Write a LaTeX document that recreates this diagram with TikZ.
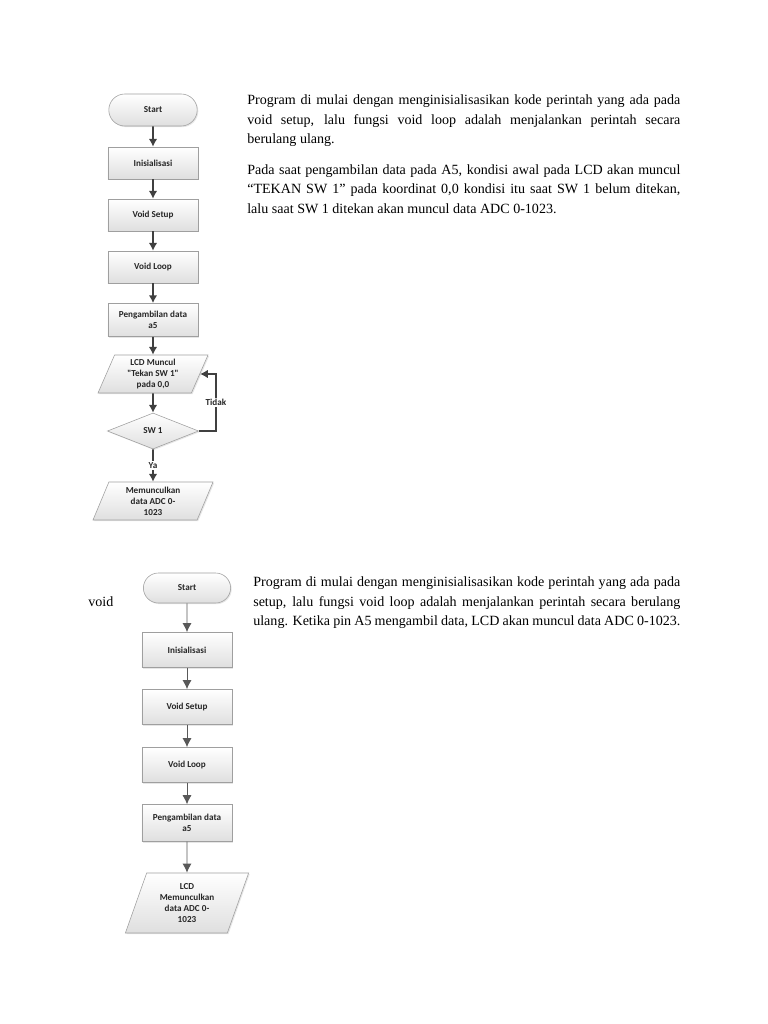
\documentclass[tikz,border=0pt]{standalone}
\usepackage{fontspec}
\setmainfont{Liberation Serif}
\newfontfamily\flowfont{Carlito}
\usetikzlibrary{arrows,arrows.meta}
\usetikzlibrary{shapes.geometric,shapes.misc,shadows}

\tikzset{
 kotak/.style={draw=gray!75, top color=white, bottom color=gray!25,
   drop shadow={shadow xshift=0.8pt, shadow yshift=-0.8pt, opacity=0.2},
   font=\flowfont\bfseries\fontsize{6.5}{7.8}\selectfont, text=black!85,
   align=center, inner sep=1pt},
 proses/.style={kotak, rectangle, minimum width=2.25cm, minimum height=0.8cm},
 mulai/.style={kotak, rounded rectangle, minimum width=2.28cm, minimum height=0.8cm},
 jajar/.style={kotak, trapezium, trapezium left angle=63, trapezium right angle=117,
   trapezium stretches body, minimum height=0.95cm},
 pilih/.style={kotak, diamond, minimum width=2.28cm, minimum height=0.9cm},
 panah/.style={draw=black!75, line width=1.1pt, ->, >={Latex[length=5.5pt, width=6pt]}},
 panahtipis/.style={draw=black!65, line width=0.7pt, ->, >={Latex[length=6.5pt, width=6.5pt]}},
 ket/.style={fill=white, inner sep=1pt, font=\flowfont\bfseries\fontsize{6.5}{7.8}\selectfont, text=black!85},
 paragraf/.style={anchor=north west, inner sep=0, align=justify, font=\fontsize{10}{14}\selectfont}
}

\begin{document}
\begin{tikzpicture}[x=0.025cm, y=-0.025cm]
\useasboundingbox (0,0) rectangle (768,1024);

% bagan atas
\node[mulai] (start1) at (153,110) {Start};
\node[proses] (init1) at (153,163) {Inisialisasi};
\node[proses] (setup1) at (153,215) {Void Setup};
\node[proses] (loop1) at (153,267) {Void Loop};
\node[proses, minimum height=0.83cm] (ambil1) at (153,320) {Pengambilan data\\a5};
\node[jajar, minimum width=2.75cm] (lcd1) at (153,374) {LCD Muncul\\"Tekan SW 1"\\pada 0,0};
\node[pilih] (sw1) at (153,431) {SW 1};
\node[jajar, minimum width=3.0cm] (tampil1) at (153,501) {Memunculkan\\data ADC 0-\\1023};

\foreach \a/\b in {start1/init1, init1/setup1, setup1/loop1, loop1/ambil1, ambil1/lcd1, lcd1/sw1}
 \draw[panah] (\a) -- (\b);
\draw[panah] (sw1) -- (tampil1) node[midway, ket] {Ya};
\draw[panah] (sw1.east) -- ++(17,0) |- (lcd1.east) node[pos=0.25, ket] {Tidak};

\node[paragraf, text width=10.825cm] (teks1) at (247,94.5) {Program di mulai dengan menginisialisasikan kode perintah yang ada pada\linebreak
void setup, lalu fungsi void loop adalah menjalankan perintah secara\linebreak
berulang ulang.\par\vspace{7.5pt}
Pada saat pengambilan data pada A5, kondisi awal pada LCD akan muncul\linebreak
“TEKAN SW 1” pada koordinat 0,0 kondisi itu saat SW 1 belum ditekan,\linebreak
lalu saat SW 1 ditekan akan muncul data ADC 0-1023.};

% bagan bawah
\node[mulai, minimum height=0.75cm, minimum width=2.25cm] (start2) at (187,588) {Start};
\node[proses, minimum height=0.875cm] (init2) at (187,650) {Inisialisasi};
\node[proses, minimum height=0.875cm] (setup2) at (187,707) {Void Setup};
\node[proses, minimum height=0.875cm] (loop2) at (187,765) {Void Loop};
\node[proses, minimum height=0.92cm] (ambil2) at (187,823) {Pengambilan data\\a5};
\node[jajar, minimum width=3.08cm, minimum height=1.5cm] (lcd2) at (187,903) {LCD\\Memunculkan\\data ADC 0-\\1023};

\foreach \a/\b in {start2/init2, init2/setup2, setup2/loop2, loop2/ambil2, ambil2/lcd2}
 \draw[panahtipis] (\a) -- (\b);

\node[anchor=base west, inner sep=0, font=\fontsize{10}{14}\selectfont] (void2) at (88,606) {void};
\node[paragraf, text width=10.675cm] (teks2) at (253,576.5) {Program di mulai dengan menginisialisasikan kode perintah yang ada pada\linebreak
setup, lalu fungsi void loop adalah menjalankan perintah secara berulang\linebreak
ulang. Ketika pin A5 mengambil data, LCD akan muncul data ADC 0-1023.};
\end{tikzpicture}
\end{document}
